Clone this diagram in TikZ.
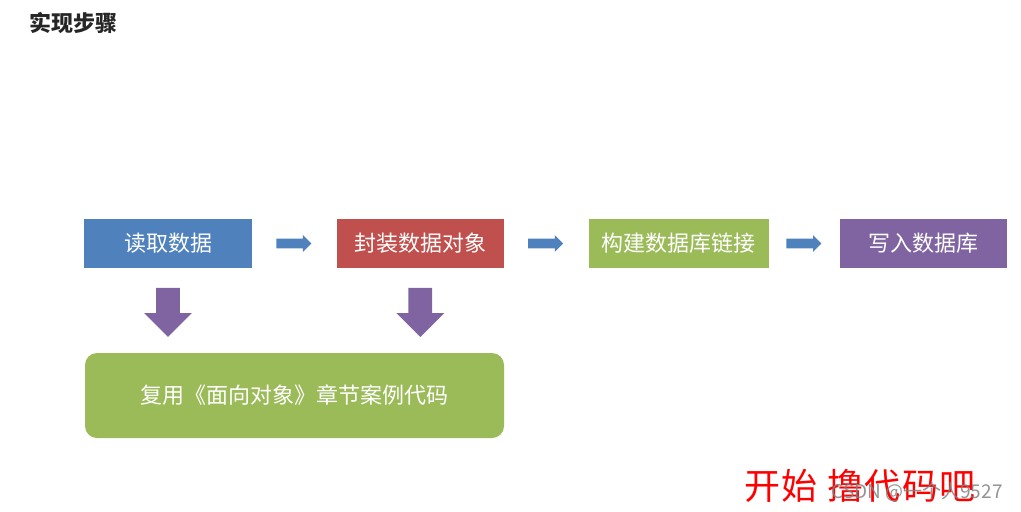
\documentclass[tikz,border=0pt]{standalone}
\usepackage{fontspec}
\setmainfont{Noto Sans CJK SC}
\usetikzlibrary{shapes,shapes.arrows}
\usetikzlibrary{positioning,calc}

\begin{document}
\begin{tikzpicture}[x=0.5pt,y=0.5pt]
\tikzset{stepbox/.style={rectangle,minimum height=24.5pt,inner sep=0pt,text=white,font=\fontsize{11}{13}\selectfont},
  rarrow/.style={single arrow,fill=arrowblue,inner xsep=0pt,inner ysep=2.25pt,single arrow head extend=1.75pt,minimum height=17.5pt,xshift=-1.5pt},
  darrow/.style={single arrow,shape border rotate=270,fill=arrowpurple,inner xsep=5.75pt,inner ysep=0pt,single arrow head extend=6pt,minimum height=24.5pt,yshift=3pt}}
\definecolor{boxblue}{HTML}{4F81BD}
\definecolor{boxred}{HTML}{C0504D}
\definecolor{boxgreen}{HTML}{9BBB59}
\definecolor{boxpurple}{HTML}{8064A2}
\definecolor{arrowblue}{HTML}{4F81BD}
\definecolor{arrowpurple}{HTML}{8064A2}
\useasboundingbox (0,0) rectangle (1021,-511);
\node[anchor=west,inner sep=0pt,font=\fontsize{11}{13}\selectfont\bfseries,text=black!85](title) at (29,-23){实现步骤};
% top row
\node[stepbox,fill=boxblue,minimum width=84pt](read) at (168,-243.5){读取数据};
\node[stepbox,fill=boxred,minimum width=83.5pt](wrap)[right=42pt of read]{封装数据对象};
\node[stepbox,fill=boxgreen,minimum width=90pt](conn)[right=42pt of wrap]{构建数据库链接};
\node[stepbox,fill=boxpurple,minimum width=83.5pt](write)[right=35.5pt of conn]{写入数据库};
\node[rarrow](r1) at ($(read.east)!0.5!(wrap.west)$){};
\node[rarrow](r2) at ($(wrap.east)!0.5!(conn.west)$){};
\node[rarrow](r3) at ($(conn.east)!0.5!(write.west)$){};
% reuse box
\node[stepbox,fill=boxgreen,rounded corners=6pt,minimum width=209.5pt,minimum height=42.5pt](reuse) at (294.5,-395.5){复用《面向对象》章节案例代码};
\node[darrow](d1) at (read.south |- 0,-312.5){};
\node[darrow](d2) at (wrap.south |- 0,-312.5){};
\node[text=red,font=\fontsize{18}{21}\selectfont\addfontfeature{LetterSpace=4}](start) at (860,-486){开始 撸代码吧};
\node[text=gray,opacity=0.85,font=\fontsize{9.5}{11}\selectfont](mark) at (917,-492){CSDN @一个人9527};
\end{tikzpicture}
\end{document}
